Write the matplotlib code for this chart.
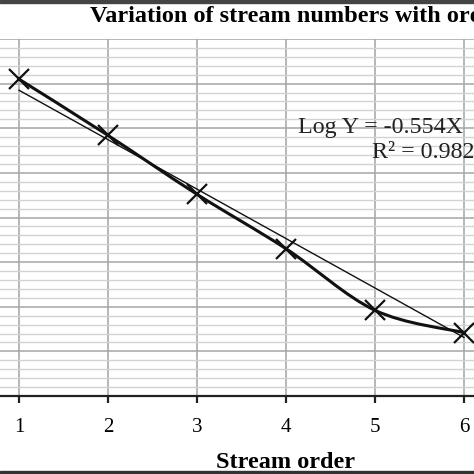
import numpy as np
import matplotlib
matplotlib.use("Agg")
from matplotlib import pyplot as plt
from matplotlib.path import Path
import matplotlib.patches as patches

# (y axis is log10 of number of streams)
stream_order = [1, 2, 3, 4, 5, 6]
log_streams = [3.55, 2.92, 2.26, 1.65, 0.96, 0.71]
trend_slope = -0.554
trend_intercept = 3.98
title = "Variation of stream numbers with order"
eq_text = "Log Y = -0.554X"
r2_text = "R\u00b2 = 0.982"

serif = ["Liberation Serif", "DejaVu Serif"]


def smooth_path(xs, ys, t=1 / 6.0):
    # excel style smoothed line: cubic bezier between neighbours
    pts = np.column_stack([xs, ys]).astype(float)
    verts = [pts[0]]
    codes = [Path.MOVETO]
    n = len(pts)
    for i in range(n - 1):
        p_prev = pts[i - 1] if i > 0 else pts[i]
        p_next2 = pts[i + 2] if i + 2 < n else pts[i + 1]
        c1 = pts[i] + (pts[i + 1] - p_prev) * t
        c2 = pts[i + 1] - (p_next2 - pts[i]) * t
        verts += [c1, c2, pts[i + 1]]
        codes += [Path.CURVE4] * 3
    return Path(verts, codes)


fig = plt.figure(figsize=(4.74, 4.74), dpi=100)
ax = fig.add_axes([-70 / 474, (474 - 396) / 474, 623 / 474, 357 / 474])
ax.set_xlim(0, 7)
ax.set_ylim(0, 4)

ax.set_yticks(np.arange(0, 4.01, 0.5))
ax.set_yticks(np.arange(0, 4.01, 0.1), minor=True)
ax.set_xticks(stream_order)
ax.grid(which="minor", axis="y", color="#d2d2d2", lw=1.0)
ax.grid(which="major", axis="y", color="#a6a6a6", lw=1.1)
ax.grid(which="major", axis="x", color="#a0a4a8", lw=1.1)
ax.set_axisbelow(True)

for s in ["left", "right", "top"]:
    ax.spines[s].set_visible(False)
ax.spines["bottom"].set_linewidth(1.6)
ax.spines["bottom"].set_color("#222222")
ax.tick_params(axis="y", which="both", left=False, labelleft=False)
ax.tick_params(axis="x", direction="out", length=5, width=1.6, color="#222222",
               pad=11, labelsize=15)
for lab in ax.get_xticklabels():
    lab.set_family(serif)

# trend line
tx = np.array([stream_order[0], stream_order[-1]])
ax.plot(tx, trend_slope * tx + trend_intercept, color="#111111", lw=1.0)

# smoothed data line with markers
ax.add_patch(patches.PathPatch(smooth_path(stream_order, log_streams),
                               facecolor="none", edgecolor="#111111", lw=2.2))
ax.plot(stream_order, log_streams, ls="none", marker="x", ms=15, mew=1.6,
        color="#111111", clip_on=False)

fig.text(298 / 474, 1 - 127 / 474, eq_text, family=serif, fontsize=17.3,
         va="center", ha="left", color="#222222")
fig.text(372 / 474, 1 - 153 / 474, r2_text, family=serif, fontsize=17.3,
         va="center", ha="left", color="#222222")
fig.text(90 / 474, 1 - 17 / 474, title, family=serif, fontsize=17.5,
         fontweight="bold", va="center", ha="left")
fig.text(286 / 474, 1 - 463 / 474, "Stream order", family=serif, fontsize=17.5,
         fontweight="bold", va="center", ha="center")

# dark bands at top and bottom edge of the crop
fig.patches.append(patches.Rectangle((0, 1 - 3 / 474), 1, 3 / 474,
                                     transform=fig.transFigure, color="#444444"))
fig.patches.append(patches.Rectangle((0, 0), 1, 3 / 474,
                                     transform=fig.transFigure, color="#333333"))

fig.savefig("out.png", dpi=100)
